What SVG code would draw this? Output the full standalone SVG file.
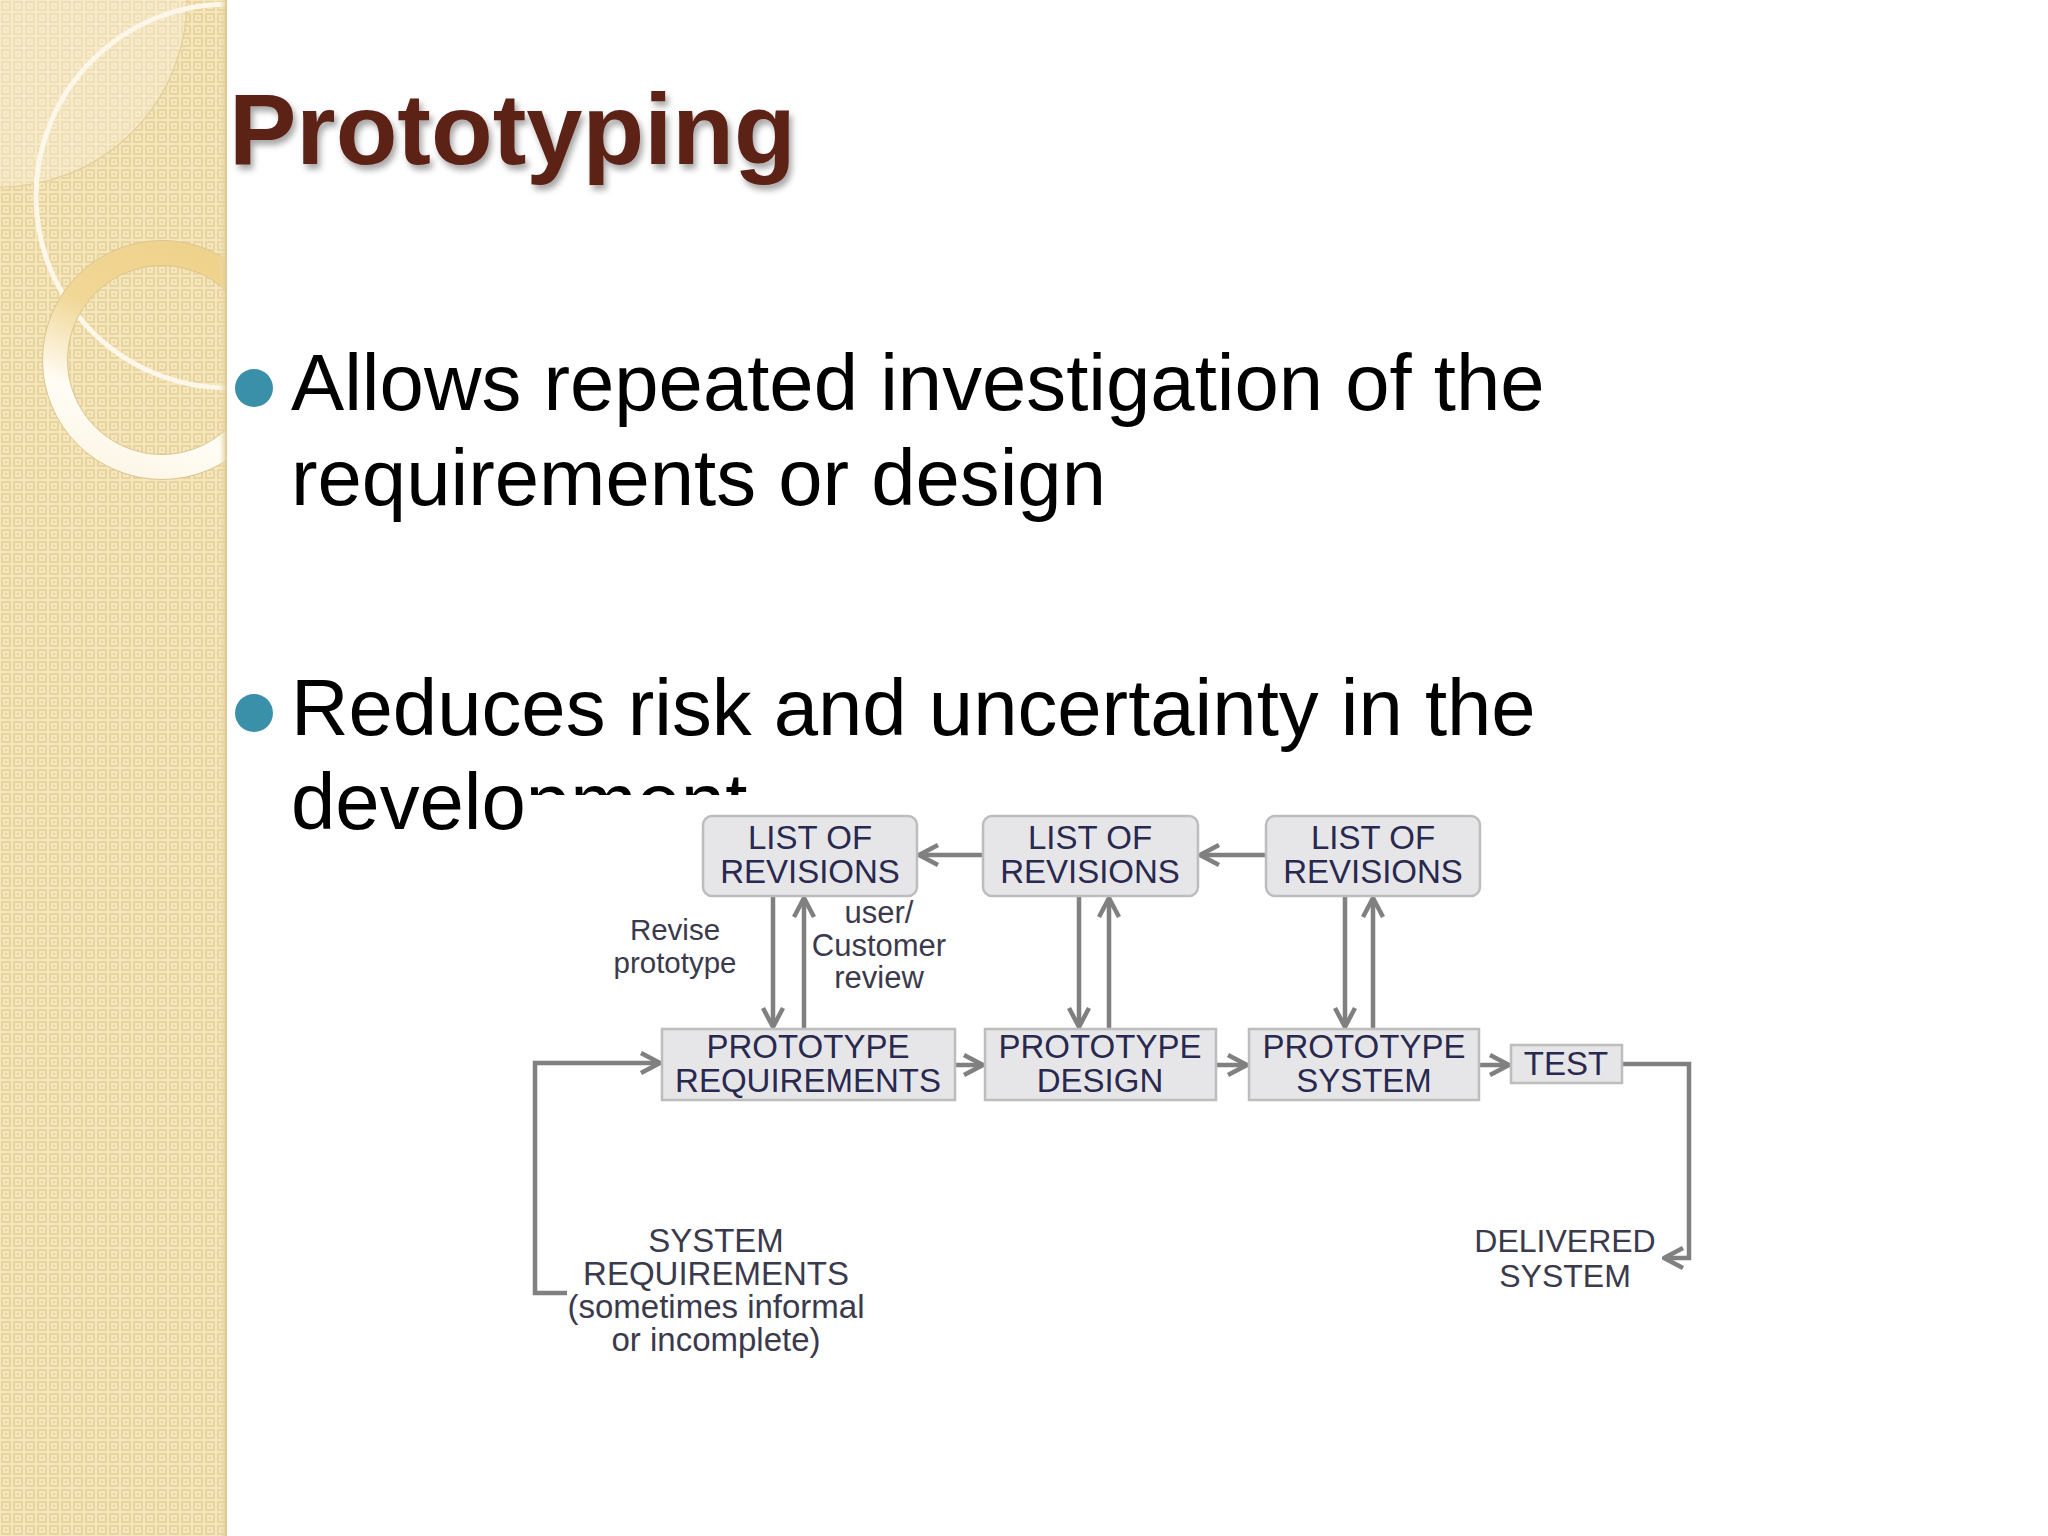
<svg xmlns="http://www.w3.org/2000/svg" width="2048" height="1536" viewBox="0 0 2048 1536">
<style>
.sans{font-family:"Liberation Sans",Arial,Helvetica,sans-serif}
.title{font-weight:bold;font-size:101px;fill:#5b2017}
.body{font-size:79.7px;fill:#000}
.bullet{fill:#3b90a9}
.box{fill:#e6e6e9;stroke:#bdbdbd;stroke-width:2.5}
.lbl{font-size:33px;fill:#29294f;text-anchor:middle}
.note{font-size:31px;fill:#3a3a4c;text-anchor:middle}
.conn{fill:none;stroke:#808080;stroke-width:4.5;marker-end:url(#arr)}
</style>
<defs>
  <pattern id="weave" x="0" y="0" width="12" height="12" patternUnits="userSpaceOnUse">
    <rect width="12" height="12" fill="#f5e6bb"/>
    <rect x="2" y="2" width="8" height="8" fill="none" stroke="#e5d09b" stroke-width="1.6"/>
    <rect x="5" y="5" width="2" height="2" fill="#e7d39f"/>
  </pattern>
  <clipPath id="sbclip"><rect x="0" y="0" width="227" height="1536"/></clipPath>
  <linearGradient id="gold" gradientUnits="userSpaceOnUse" x1="200" y1="240" x2="110" y2="470">
    <stop offset="0" stop-color="#efd28b"/>
    <stop offset="0.4" stop-color="#f1d796"/>
    <stop offset="0.75" stop-color="#fffdf6"/>
    <stop offset="1" stop-color="#fcf6e6"/>
  </linearGradient>
  <linearGradient id="edge" x1="0" y1="0" x2="1" y2="0">
    <stop offset="0" stop-color="#f4e4b8" stop-opacity="0"/>
    <stop offset="1" stop-color="#d8c48f"/>
  </linearGradient>
  <filter id="shadow" x="-5%" y="-10%" width="115%" height="130%">
    <feDropShadow dx="3" dy="5" stdDeviation="3" flood-color="#000" flood-opacity="0.35"/>
  </filter>
  <marker id="arr" viewBox="0 0 24 24" refX="22" refY="12" markerWidth="24" markerHeight="24" markerUnits="userSpaceOnUse" orient="auto">
    <path d="M3,2 L22,12 L3,22" fill="none" stroke="#808080" stroke-width="4.5" stroke-linejoin="round"/>
  </marker>
</defs>

<rect width="2048" height="1536" fill="#ffffff"/>

<g id="sidebar" clip-path="url(#sbclip)">
  <rect width="227" height="1536" fill="url(#weave)"/>
  <circle cx="0" cy="0" r="187" fill="#fffaf0" fill-opacity="0.3" stroke="#e2cf9c" stroke-width="1.2"/>
  <circle cx="228" cy="196" r="192" fill="none" stroke="#fcf7e8" stroke-width="5"/>
  <circle cx="162" cy="360" r="107" fill="none" stroke="url(#gold)" stroke-width="25"/>
  <circle cx="162" cy="360" r="94.5" fill="none" stroke="#dcc68e" stroke-width="1"/>
  <circle cx="162" cy="360" r="119.5" fill="none" stroke="#dcc68e" stroke-width="1"/>
  <rect x="219" y="0" width="8" height="1536" fill="url(#edge)"/>
</g>

<g id="title">
  <text class="sans title" x="229" y="164" filter="url(#shadow)">Prototyping</text>
</g>

<g id="bullets">
  <circle class="bullet" cx="254" cy="388" r="19"/>
  <text class="sans body" x="291" y="410">Allows repeated investigation of the</text>
  <text class="sans body" x="291" y="505">requirements or design</text>
  <circle class="bullet" cx="254" cy="713" r="19"/>
  <text class="sans body" x="291" y="735">Reduces risk and uncertainty in the</text>
  <text class="sans body" x="291" y="829">development</text>
</g>

<rect id="diagram-bg" x="527" y="795" width="1200" height="600" fill="#ffffff"/>

<g id="connectors">
  <path class="conn" d="M983,855 H919"/>
  <path class="conn" d="M1266,855 H1200"/>
  <path class="conn" d="M773,896 V1027"/>
  <path class="conn" d="M804,1029 V898"/>
  <path class="conn" d="M1079,896 V1027"/>
  <path class="conn" d="M1109,1029 V898"/>
  <path class="conn" d="M1345,896 V1027"/>
  <path class="conn" d="M1373,1029 V898"/>
  <path class="conn" d="M955,1065 H983"/>
  <path class="conn" d="M1216,1065 H1247"/>
  <path class="conn" d="M1479,1065 H1509"/>
  <path class="conn" d="M1622,1064 H1689 V1258 H1664"/>
  <path class="conn" d="M567,1293 H535 V1063 H660"/>
</g>

<g id="list1">
  <rect class="box" x="703" y="816" width="214" height="80" rx="9"/>
  <text class="sans lbl" x="810" y="849">LIST OF</text>
  <text class="sans lbl" x="810" y="883">REVISIONS</text>
</g>
<g id="list2">
  <rect class="box" x="983" y="816" width="215" height="80" rx="9"/>
  <text class="sans lbl" x="1090" y="849">LIST OF</text>
  <text class="sans lbl" x="1090" y="883">REVISIONS</text>
</g>
<g id="list3">
  <rect class="box" x="1266" y="816" width="214" height="80" rx="9"/>
  <text class="sans lbl" x="1373" y="849">LIST OF</text>
  <text class="sans lbl" x="1373" y="883">REVISIONS</text>
</g>
<g id="proto-req">
  <rect class="box" x="662" y="1029" width="293" height="71"/>
  <text class="sans lbl" x="808" y="1058">PROTOTYPE</text>
  <text class="sans lbl" x="808" y="1092">REQUIREMENTS</text>
</g>
<g id="proto-design">
  <rect class="box" x="985" y="1029" width="231" height="71"/>
  <text class="sans lbl" x="1100" y="1058">PROTOTYPE</text>
  <text class="sans lbl" x="1100" y="1092">DESIGN</text>
</g>
<g id="proto-system">
  <rect class="box" x="1249" y="1029" width="230" height="71"/>
  <text class="sans lbl" x="1364" y="1058">PROTOTYPE</text>
  <text class="sans lbl" x="1364" y="1092">SYSTEM</text>
</g>
<g id="test">
  <rect class="box" x="1511" y="1045" width="111" height="38"/>
  <text class="sans lbl" x="1566" y="1075">TEST</text>
</g>
<g id="revise-label">
  <text class="sans note" x="675" y="940" style="font-size:29.5px">Revise</text>
  <text class="sans note" x="675" y="973" style="font-size:29.5px">prototype</text>
</g>
<g id="review-label">
  <text class="sans note" x="879" y="923">user/</text>
  <text class="sans note" x="879" y="956">Customer</text>
  <text class="sans note" x="879" y="988">review</text>
</g>
<g id="system-requirements">
  <text class="sans note" x="716" y="1252" style="font-size:33px">SYSTEM</text>
  <text class="sans note" x="716" y="1285" style="font-size:33px">REQUIREMENTS</text>
  <text class="sans note" x="716" y="1318" style="font-size:33px">(sometimes informal</text>
  <text class="sans note" x="716" y="1351" style="font-size:33px">or incomplete)</text>
</g>
<g id="delivered-system">
  <text class="sans note" x="1565" y="1252" style="font-size:32px">DELIVERED</text>
  <text class="sans note" x="1565" y="1287" style="font-size:32px">SYSTEM</text>
</g>
</svg>
